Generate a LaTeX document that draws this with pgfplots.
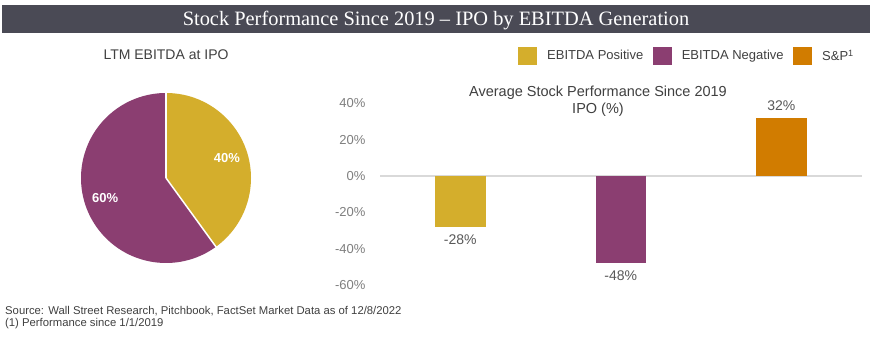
\documentclass[border=0pt]{standalone}
\usepackage{pgfplots}
\pgfplotsset{compat=1.18}
\usepackage{pgfplotstable}
\usepackage{fontspec}
\setmainfont{Liberation Sans}
\newfontfamily\titlefont{Liberation Serif}
\definecolor{barbg}{HTML}{4A4A55}
\definecolor{gold}{HTML}{D4AE2C}
\definecolor{plum}{HTML}{8B3E71}
\definecolor{orng}{HTML}{D17C00}
\definecolor{txt}{HTML}{404040}
\definecolor{tickc}{HTML}{7F7F7F}
\definecolor{lblc}{HTML}{595959}
\definecolor{zline}{HTML}{D9D9D9}

\pgfplotstableread{
label share
Positive 40
Negative 60
}\pietable

\pgfplotstableread{
idx perf
0 -28
}\postable
\pgfplotstableread{
idx perf
1 -48
}\negtable
\pgfplotstableread{
idx perf
2 32
}\sptable

\pgfplotstablegetelem{0}{share}\of\pietable
\let\posshare\pgfplotsretval
\pgfplotstablegetelem{1}{share}\of\pietable
\let\negshare\pgfplotsretval

\pgfplotsset{sq/.style={legend image code/.code={\fill[##1,draw=none] (0pt,-9pt) rectangle (19pt,9pt);}}}

\begin{document}
\begin{tikzpicture}[x=1pt,y=1pt]
\useasboundingbox (0,0) rectangle (872,339);
\fill[white] (0,0) rectangle (872,339);
\fill[barbg] (2,306) rectangle (870,334);
\node[text=white, font=\titlefont\fontsize{20.4}{23}\selectfont, inner sep=0pt] at (436,318.5) {Stock Performance Since 2019 – IPO by EBITDA Generation};

\node[text=txt, font=\fontsize{14}{16}\selectfont, inner sep=0pt] at (166,284) {LTM EBITDA at IPO};

\begin{axis}[at={(166pt,161pt)}, anchor=center, scale only axis, width=170pt, height=170pt,
  xmin=-1,xmax=1,ymin=-1,ymax=1, hide axis, clip=false]
\pgfmathsetmacro\posend{90-3.6*\posshare}
\pgfmathsetmacro\negend{\posend-3.6*\negshare}
\pgfmathsetmacro\posmid{90-1.8*\posshare}
\pgfmathsetmacro\negmid{\posend-1.8*\negshare}
\fill[gold] (axis cs:0,0) -- ++(90:85pt) arc[start angle=90, end angle=\posend, radius=85pt] -- cycle;
\fill[plum] (axis cs:0,0) -- ++(\posend:85pt) arc[start angle=\posend, end angle=\negend, radius=85pt] -- cycle;
\draw[white, line width=1.5pt] (axis cs:0,0) -- ++(90:85.5pt);
\draw[white, line width=1.5pt] (axis cs:0,0) -- ++(\posend:85.5pt);
\path (axis cs:0,0) ++(\posmid:64pt) node[text=white, font=\bfseries\fontsize{13}{15}\selectfont] {\posshare\%};
\path (axis cs:0,0) ++(\negmid:64pt) node[text=white, font=\bfseries\fontsize{13}{15}\selectfont] {\negshare\%};
\end{axis}

\node[align=center, text=txt, font=\fontsize{14.5}{17}\selectfont, inner sep=0pt] at (598,238) {Average Stock Performance Since 2019\\IPO (\%)};

\begin{axis}[at={(380pt,54.1pt)}, anchor=south west, scale only axis, width=481.5pt, height=181.5pt,
  xmin=-0.5, xmax=2.5, ymin=-60, ymax=40,
  ytick={-60,-40,-20,0,20,40}, xtick=\empty,
  axis line style={draw=none}, ytick style={draw=none},
  /pgf/number format/assume math mode=true,
  yticklabel={\pgfmathprintnumber{\tick}\%},
  yticklabel style={font=\fontsize{13}{15}\selectfont, text=tickc, xshift=-11pt},
  extra y ticks={0}, extra y tick labels={},
  extra y tick style={grid=major, major grid style={draw=zline, line width=1.2pt}},
  ybar, bar width=50.5pt, bar shift=0pt,
  nodes near coords={\pgfmathprintnumber{\pgfplotspointmeta}\%},
  every node near coord/.append style={font=\fontsize{14}{16}\selectfont, text=lblc, inner sep=7.5pt},
  clip=false,
  legend columns=3,
  legend style={at={(138pt, 229pt)}, anchor=west, draw=none, fill=none,
    font=\fontsize{13}{15}\selectfont, text=txt, inner sep=0pt,
    /tikz/every odd column/.append style={column sep=8pt},
    /tikz/every even column/.append style={column sep=7.5pt}},
]
\addplot[fill=gold, draw=none, sq] table[x=idx, y=perf] {\postable};
\addlegendentry{EBITDA Positive}
\addplot[fill=plum, draw=none, sq] table[x=idx, y=perf] {\negtable};
\addlegendentry{EBITDA Negative}
\addplot[fill=orng, draw=none, sq] table[x=idx, y=perf] {\sptable};
\addlegendentry{S\&P\textsuperscript{1}}
\end{axis}

\node[anchor=west, text=txt, font=\fontsize{11.3}{13}\selectfont, inner sep=0pt] at (5,27.5) {Source: Wall Street Research, Pitchbook, FactSet Market Data as of 12/8/2022};
\node[anchor=west, text=txt, font=\fontsize{11.3}{13}\selectfont, inner sep=0pt] at (5,15.5) {(1) Performance since 1/1/2019};
\end{tikzpicture}
\end{document}
